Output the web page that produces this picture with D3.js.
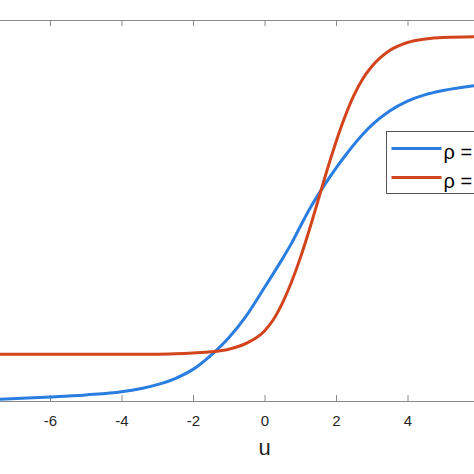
<!DOCTYPE html>
<html lang="en">
<head>
    <meta charset="UTF-8">
    <title>rho curves</title>
    <style>
        body { margin: 0; background: #fff; }
        svg { display: block; font-family: "Liberation Sans", Arial, sans-serif; }
    </style>
</head>
<body>
    <svg width="474" height="474"></svg>

    <script src="https://d3js.org/d3.v7.min.js"></script>
    <script>
        // values (y normalised to the visible plot height)
        const uValues = [-7.5, -6, -5, -4, -3, -2.5, -2, -1.5, -1, -0.5, 0, 0.25, 0.5, 0.75, 1, 1.25, 1.5, 1.75, 2, 2.25, 2.5, 2.75, 3, 3.5, 4, 4.5, 5, 6];
        const blueValues = [0.004, 0.0105, 0.016, 0.024, 0.043, 0.059, 0.083, 0.120, 0.166, 0.225, 0.298, 0.335, 0.373, 0.413, 0.458, 0.502, 0.541, 0.577, 0.611, 0.643, 0.673, 0.700, 0.724, 0.761, 0.787, 0.804, 0.815, 0.829];
        const redValues  = [0.123, 0.123, 0.123, 0.123, 0.123, 0.124, 0.126, 0.129, 0.136, 0.152, 0.184, 0.214, 0.257, 0.311, 0.375, 0.448, 0.527, 0.606, 0.680, 0.746, 0.802, 0.846, 0.878, 0.920, 0.941, 0.950, 0.954, 0.956];
        const xTicks = [-6, -4, -2, 0, 2, 4];
        const legendLabels = ["\u03C1 =", "\u03C1 ="];
        const seriesColors = ["#2a7de1", "#d2451c"];

        const svg = d3.select("svg");

        // plot is cropped: x=0 sits at 264.5px, 2 units = 71.5px
        const x = d3.scaleLinear().domain([-8, 8]).range([264.5 - 8 * 35.75, 264.5 + 8 * 35.75]);
        const y = d3.scaleLinear().domain([0, 1]).range([401, 20]);

        const axisColor = "#8a8a8a";

        const bottomAxis = svg.append("g")
            .attr("transform", "translate(0,401)")
            .call(d3.axisBottom(x).tickValues(xTicks).tickSizeInner(-6).tickSizeOuter(0)
                .tickPadding(14).tickFormat(d => String(d)));

        const topAxis = svg.append("g")
            .attr("transform", "translate(0,20)")
            .call(d3.axisTop(x).tickValues(xTicks).tickSizeInner(-6).tickSizeOuter(0).tickFormat(""));

        [bottomAxis, topAxis].forEach(g => {
            g.select(".domain").attr("stroke", axisColor);
            g.selectAll(".tick line").attr("stroke", axisColor);
            g.selectAll(".tick text")
                .attr("fill", "#262626")
                .style("font-size", "15px")
                .style("font-family", "'Liberation Sans', Arial, sans-serif");
        });

        svg.append("text")
            .attr("x", x(0))
            .attr("y", 455)
            .attr("text-anchor", "middle")
            .attr("fill", "#262626")
            .style("font-size", "22px")
            .text("u");

        const line = d3.line()
            .x((d, i) => x(uValues[i]))
            .y(d => y(d))
            .curve(d3.curveMonotoneX);

        [blueValues, redValues].forEach((vals, k) => {
            svg.append("path")
                .datum(vals)
                .attr("d", line)
                .attr("fill", "none")
                .attr("stroke", seriesColors[k])
                .attr("stroke-width", 3);
        });

        // legend (runs off the right edge like the original crop)
        const legend = svg.append("g").attr("transform", "translate(386.5,131.5)");
        legend.append("rect")
            .attr("width", 200)
            .attr("height", 62)
            .attr("fill", "#fff")
            .attr("stroke", "#555")
            .attr("stroke-width", 1);

        legendLabels.forEach((lab, k) => {
            const yy = 17 + k * 29;
            legend.append("line")
                .attr("x1", 5).attr("x2", 55)
                .attr("y1", yy).attr("y2", yy)
                .attr("stroke", seriesColors[k])
                .attr("stroke-width", 3);
            legend.append("text")
                .attr("x", 57)
                .attr("y", yy + 10)
                .attr("fill", "#000")
                .style("font-size", "20px")
                .style("white-space", "pre")
                .text(lab);
        });
    </script>
</body>
</html>
